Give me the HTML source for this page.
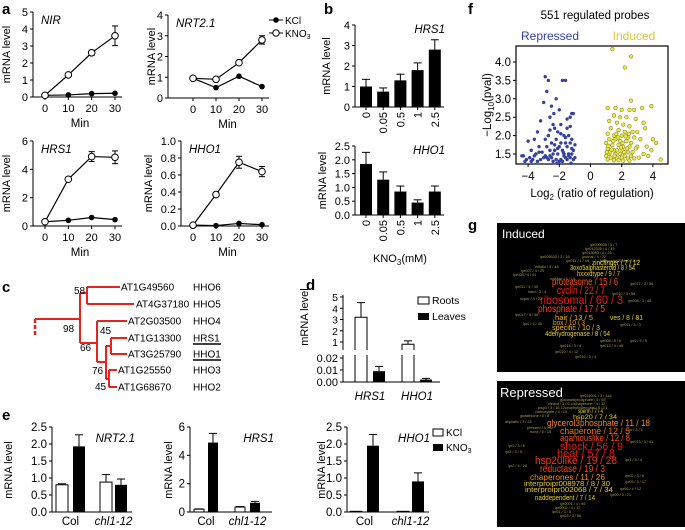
<!DOCTYPE html>
<html><head><meta charset="utf-8"><style>
html,body{margin:0;padding:0;background:#fff;}
svg{display:block;font-family:"Liberation Sans",Arial,sans-serif;}
</style></head><body>
<svg id="fig" width="685" height="530" viewBox="0 0 685 530" xmlns="http://www.w3.org/2000/svg">
<rect x="0" y="0" width="685" height="530" fill="#fff"/>
<g font-weight="bold" font-size="15">
<text x="2" y="14">a</text>
<text x="324" y="14">b</text>
<text x="2" y="292">c</text>
<text x="306" y="290">d</text>
<text x="2" y="420">e</text>
<text x="468" y="14">f</text>
<text x="468" y="230">g</text>
</g>
</svg>
<script>
// ---------- DATA ----------
const minutes=[0,10,20,30];
const nirKCl=[0.1,0.12,0.2,0.22];
const nirKNO3=[0.1,1.3,2.6,3.6];
const nirErr=[0,0.05,0.15,0.58];
const nrtKCl=[0.95,0.5,1.05,0.55];
const nrtKNO3=[0.95,0.9,1.7,2.8];
const nrtErr=[0,0.03,0.08,0.2];
const hrsKCl=[0.3,0.4,0.6,0.45];
const hrsKNO3=[0.3,3.3,4.9,4.85];
const hrsErr=[0,0.05,0.35,0.45];
const hhoKCl=[0.01,0.005,0.03,0.015];
const hhoKNO3=[0.01,0.37,0.75,0.64];
const hhoErr=[0,0.01,0.07,0.06];

const doseLabels=['0','0.05','0.5','1','2.5'];
const doseHRS1=[1.0,0.75,1.3,1.8,2.8];
const doseHRS1Err=[0.35,0.18,0.3,0.35,0.48];
const doseHHO1=[1.85,1.28,0.85,0.45,0.85];
const doseHHO1Err=[0.42,0.28,0.2,0.1,0.2];

const tissueGenes=['HRS1','HHO1'];
const roots=[3.2,0.8];
const rootsErr=[1.3,0.3];
const leaves=[0.009,0.002];
const leavesErr=[0.004,0.001];

const genotypes=['Col','chl1-12'];
const eNrtKCl=[0.8,0.88], eNrtKCl_err=[0.03,0.22];
const eNrtKNO3=[1.93,0.8], eNrtKNO3_err=[0.34,0.17];
const eHrsKCl=[0.2,0.35], eHrsKCl_err=[0.02,0.04];
const eHrsKNO3=[4.9,0.65], eHrsKNO3_err=[0.65,0.1];
const eHhoKCl=[0.02,0.02], eHhoKCl_err=[0,0];
const eHhoKNO3=[1.95,0.9], eHhoKNO3_err=[0.33,0.25];

const repressed=[[-2.9,3.6],[-2.7,3.5],[-1.8,3.5],[-1.6,3.5],[-2.8,3.2],[-2.2,3.0],[-3.0,2.9],[-1.2,2.6],[-2.5,2.8],[-2.0,2.7],[-1.3,2.5],[-1.1,2.6],[-2.6,2.5],[-3.2,2.4],[-2.4,2.3],[-1.9,2.3],[-2.3,2.2],[-1.5,2.2],[-2.1,2.1],[-3.4,2.1],[-2.7,2.0],[-1.7,2.0],[-1.4,2.0],[-2.9,1.9],[-1.2,1.9],[-2.2,1.9],[-3.6,1.9],[-4.0,1.85],[-2.5,1.8],[-1.9,1.8],[-1.6,1.8],[-1.3,1.8],[-2.8,1.7],[-3.3,1.7],[-4.3,1.45],[-3.8,1.6],[-2.0,1.7],[-1.5,1.7],[-1.8,1.6],[-1.1,1.6],[-2.6,1.6],[-2.3,1.6],[-3.1,1.55],[-3.5,1.5],[-1.4,1.5],[-1.7,1.5],[-2.4,1.5],[-2.1,1.5],[-1.2,1.5],[-1.0,1.4],[-3.9,1.4],[-4.4,1.45],[-3.7,1.35],[-3.0,1.4],[-2.8,1.4],[-2.5,1.4],[-1.6,1.4],[-1.3,1.4],[-1.9,1.35],[-2.2,1.35],[-3.2,1.35],[-2.7,1.35],[-1.5,1.35],[-1.1,1.35],[-2.0,1.3],[-1.8,1.3],[-2.4,1.3],[-3.4,1.3],[-4.1,1.35],[-3.6,1.45],[-2.9,1.45],[-1.4,1.45],[-1.7,1.45],[-2.6,1.45],[-1.2,1.65],[-2.1,1.65],[-2.3,1.75],[-1.0,1.75],[-1.6,1.95],[-3.3,1.55],[-1.5,2.45],[-1.9,2.05],[-2.6,2.15],[-1.3,2.25],[-2.35,2.6],[-1.75,1.55],[-1.25,1.25],[-2.15,1.25],[-4.2,1.3],[-3.8,1.3]];
const induced=[[1.4,4.35],[2.6,4.15],[2.2,3.85],[2.6,2.95],[3.9,2.8],[1.1,2.75],[1.6,2.75],[2.0,2.7],[2.5,2.7],[2.8,2.7],[3.3,2.75],[1.5,2.55],[1.9,2.5],[2.3,2.5],[2.9,2.45],[3.4,2.35],[4.0,1.9],[4.2,1.8],[3.6,1.7],[4.5,1.35],[3.9,1.6],[3.2,1.9],[3.0,1.7],[1.2,2.4],[1.7,2.35],[2.1,2.3],[2.5,2.25],[1.3,2.2],[1.8,2.15],[2.2,2.1],[2.7,2.1],[1.1,2.05],[1.5,2.0],[2.0,2.0],[2.4,1.95],[2.8,1.95],[1.2,1.9],[1.6,1.9],[1.9,1.85],[2.3,1.85],[2.6,1.8],[1.0,1.8],[1.4,1.75],[1.8,1.75],[2.1,1.7],[2.5,1.7],[2.9,1.65],[1.1,1.65],[1.5,1.6],[1.7,1.6],[2.0,1.6],[2.4,1.55],[2.7,1.55],[1.2,1.5],[1.6,1.5],[1.9,1.5],[2.2,1.45],[2.6,1.45],[1.0,1.45],[1.3,1.4],[1.7,1.4],[2.0,1.4],[2.4,1.38],[2.8,1.38],[1.1,1.35],[1.5,1.33],[1.8,1.33],[2.1,1.32],[2.5,1.32],[3.1,1.4],[3.4,1.5],[3.7,1.45],[1.25,1.55],[1.45,1.85],[1.65,2.05],[2.15,1.55],[2.35,1.65],[1.05,1.55],[1.35,1.62],[1.75,1.95],[2.05,1.8],[2.45,2.05],[3.0,2.1],[3.5,2.2],[1.15,1.72],[1.55,1.45],[1.95,1.68],[2.25,1.98]];
const xTicksF=[-4,-2,0,2,4];
const yTicksF=[1.5,2.0,2.5,3.0,3.5,4.0];

// ---------- HELPERS ----------
const NS='http://www.w3.org/2000/svg';
const svg=document.getElementById('fig');
function mk(tag,attrs,name,parent){
  const e=document.createElementNS(NS,tag);
  for(const k in attrs)e.setAttribute(k,attrs[k]);
  
  
  (parent||svg).appendChild(e);return e;
}
function txt(x,y,s,opt,name,parent){
  const a=Object.assign({x:x,y:y,'font-size':11,fill:'#000'},opt||{});
  const e=mk('text',a,name,parent);e.textContent=s;return e;
}
function line(x1,y1,x2,y2,name,parent,col,w){
  return mk('line',{x1:x1,y1:y1,x2:x2,y2:y2,stroke:col||'#000','stroke-width':w||1},name,parent);
}
function ylabel(x,yc,parent){
  return txt(0,0,'mRNA level',{transform:'translate('+x+','+yc+') rotate(-90)','text-anchor':'middle','font-size':11},'y-axis-title',parent);
}

// ---------- PANEL A ----------
function lineChart(o){
  const g=mk('g',{},o.name);
  const px=v=>o.x0+(v/30)*(o.x30-o.x0);
  const py=v=>o.yb-(v/o.ymax)*(o.yb-o.yt);
  line(o.ax,o.yt,o.ax,o.yb,'y-axis',g);
  line(o.ax,o.yb,o.x30+7,o.yb,'x-axis',g);
  o.yticks.forEach((t,i)=>{line(o.ax-3,py(t),o.ax,py(t),'y-tick',g);txt(o.ax-5,py(t)+4,o.ylabels[i],{'text-anchor':'end'},'y-tick-label',g);});
  minutes.forEach(m=>{line(px(m),o.yb,px(m),o.yb+3,'x-tick',g);txt(px(m),o.yb+15,String(m),{'text-anchor':'middle'},'x-tick-label',g);});
  txt((o.x0+o.x30)/2,o.yb+30,'Min',{'text-anchor':'middle','font-size':11.5},'x-axis-title',g);
  ylabel(o.ylx,(o.yt+o.yb)/2,g);
  txt(o.ax+8,o.yt+12,o.title,{'font-style':'italic','font-size':11.5},'chart-title',g);
  let d1='',d2='';
  minutes.forEach((m,i)=>{d1+=(i?'L':'M')+px(m)+','+py(o.kcl[i]);d2+=(i?'L':'M')+px(m)+','+py(o.kno3[i]);});
  mk('path',{d:d1,fill:'none',stroke:'#000','stroke-width':1.2},'kcl-line',g);
  mk('path',{d:d2,fill:'none',stroke:'#000','stroke-width':1.2},'kno3-line',g);
  minutes.forEach((m,i)=>{
    const e=o.err[i];
    if(e>0){const t=py(o.kno3[i]+e),b=py(o.kno3[i]-e);line(px(m),t,px(m),b,'error-bar',g);line(px(m)-3,t,px(m)+3,t,'error-cap',g);line(px(m)-3,b,px(m)+3,b,'error-cap',g);}
    mk('circle',{cx:px(m),cy:py(o.kcl[i]),r:2.8,fill:'#000'},'kcl-point',g);
    mk('circle',{cx:px(m),cy:py(o.kno3[i]),r:3.3,fill:'#fff',stroke:'#000','stroke-width':1},'kno3-point',g);
  });
}
lineChart({name:'chart-nir',ax:33,x0:45,x30:115,yt:12,yb:97,ymax:5,yticks:[0,1,2,3,4,5],ylabels:['0','1','2','3','4','5'],kcl:nirKCl,kno3:nirKNO3,err:nirErr,title:'NIR',ylx:10});
lineChart({name:'chart-nrt21',ax:168,x0:193,x30:262,yt:15,yb:98,ymax:4,yticks:[0,1,2,3,4],ylabels:['0','1','2','3','4'],kcl:nrtKCl,kno3:nrtKNO3,err:nrtErr,title:'NRT2.1',ylx:155});
lineChart({name:'chart-hrs1-time',ax:33,x0:45,x30:115,yt:141,yb:226,ymax:6,yticks:[0,2,4,6],ylabels:['0','2','4','6'],kcl:hrsKCl,kno3:hrsKNO3,err:hrsErr,title:'HRS1',ylx:10});
lineChart({name:'chart-hho1-time',ax:181,x0:193,x30:262,yt:141,yb:226,ymax:1,yticks:[0,0.2,0.4,0.6,0.8,1.0],ylabels:['0.0','0.2','0.4','0.6','0.8','1.0'],kcl:hhoKCl,kno3:hhoKNO3,err:hhoErr,title:'HHO1',ylx:152});
// legend a
(function(){const g=mk('g',{},'legend-a');
line(269,20,283,20,'legend-kcl-line',g);mk('circle',{cx:276,cy:20,r:2.8,fill:'#000'},'legend-kcl-marker',g);
txt(285,24,'KCl',{'font-size':10},'legend-kcl-label',g);
line(269,33,283,33,'legend-kno3-line',g);mk('circle',{cx:276,cy:33,r:3.2,fill:'#fff',stroke:'#000'},'legend-kno3-marker',g);
const t=txt(285,37,'KNO',{'font-size':10},'legend-kno3-label',g);const s=document.createElementNS(NS,'tspan');s.setAttribute('font-size','7');s.setAttribute('dy','2');s.textContent='3';t.appendChild(s);})();

// ---------- PANEL B ----------
function doseChart(o){
  const g=mk('g',{},o.name);
  const py=v=>o.yb-(v/o.ymax)*(o.yb-o.yt);
  const cx=i=>366+i*17.2;
  line(o.ax,o.yt,o.ax,o.yb,'y-axis',g);line(o.ax,o.yb,444,o.yb,'x-axis',g);
  o.yticks.forEach((t,i)=>{line(o.ax-3,py(t),o.ax,py(t),'y-tick',g);txt(o.ax-5,py(t)+4,o.ylabels[i],{'text-anchor':'end'},'y-tick-label',g);});
  o.vals.forEach((v,i)=>{
    mk('rect',{x:cx(i)-6,y:py(v),width:12,height:o.yb-py(v),fill:'#000'},'bar-'+doseLabels[i],g);
    const t=py(v+o.err[i]);line(cx(i),t,cx(i),py(v),'error-bar',g);line(cx(i)-4,t,cx(i)+4,t,'error-cap',g);
    line(cx(i),o.yb,cx(i),o.yb+3,'x-tick',g);
    txt(0,0,doseLabels[i],{transform:'translate('+(cx(i)+4)+','+(o.yb+5)+') rotate(-90)','text-anchor':'end'},'x-tick-label',g);
  });
  ylabel(o.ylx,(o.yt+o.yb)/2,g);
  txt(445,o.yt+8,o.title,{'font-style':'italic','text-anchor':'end','font-size':11.5},'chart-title',g);
}
doseChart({name:'chart-hrs1-dose',ax:355,yt:25,yb:107,ymax:4,yticks:[0,1,2,3,4],ylabels:['0','1','2','3','4'],vals:doseHRS1,err:doseHRS1Err,title:'HRS1',ylx:330});
doseChart({name:'chart-hho1-dose',ax:355,yt:146,yb:215,ymax:2.5,yticks:[0,0.5,1,1.5,2,2.5],ylabels:['0.0','0.5','1.0','1.5','2.0','2.5'],vals:doseHHO1,err:doseHHO1Err,title:'HHO1',ylx:326});
(function(){const t=txt(400,262,'KNO',{'text-anchor':'middle','font-size':11},'x-axis-title');const s=document.createElementNS(NS,'tspan');s.setAttribute('font-size','8');s.setAttribute('dy','3');s.textContent='3';t.appendChild(s);const s2=document.createElementNS(NS,'tspan');s2.setAttribute('dy','-3');s2.textContent='(mM)';t.appendChild(s2);})();

// ---------- PANEL F ----------
(function(){
  const g=mk('g',{},'volcano-plot');
  const px=v=>590.5+v*15.6, py=v=>154-(v-1.5)*36.8;
  txt(595,19,'551 regulated probes',{'text-anchor':'middle','font-size':11.5},'chart-title',g);
  txt(550,40,'Repressed',{'text-anchor':'middle','font-size':12,fill:'#3540a8'},'repressed-label',g);
  txt(634,40,'Induced',{'text-anchor':'middle','font-size':12,fill:'#d8c83a'},'induced-label',g);
  mk('rect',{x:516,y:46,width:152,height:118,fill:'none',stroke:'#000','stroke-width':1.2},'plot-frame',g);
  xTicksF.forEach(t=>{line(px(t),164,px(t),167,'x-tick',g);txt(px(t),180,t<0?'\u2212'+(-t):String(t),{'text-anchor':'middle','font-size':11.5},'x-tick-label',g);});
  yTicksF.forEach(t=>{line(513,py(t),516,py(t),'y-tick',g);txt(511,py(t)+4,t.toFixed(1),{'text-anchor':'end','font-size':11.5},'y-tick-label',g);});
  repressed.forEach(p=>mk('circle',{cx:px(p[0]),cy:py(p[1]),r:1.7,fill:'#3540a0'},'repressed-point',g));
  induced.forEach(p=>mk('circle',{cx:px(p[0]),cy:py(p[1]),r:1.8,fill:'#eeea3a',stroke:'#8c8c3a','stroke-width':0.6},'induced-point',g));
  const yt=txt(0,0,'\u2212Log',{transform:'translate(491,105) rotate(-90)','text-anchor':'middle','font-size':11.5},'y-axis-title',g);
  let s=document.createElementNS(NS,'tspan');s.setAttribute('font-size','8');s.setAttribute('dy','3');s.textContent='10';yt.appendChild(s);
  s=document.createElementNS(NS,'tspan');s.setAttribute('dy','-3');s.textContent='(pval)';yt.appendChild(s);
  const xt=txt(592,197,'Log',{'text-anchor':'middle','font-size':11.5},'x-axis-title',g);
  s=document.createElementNS(NS,'tspan');s.setAttribute('font-size','8');s.setAttribute('dy','3');s.textContent='2';xt.appendChild(s);
  s=document.createElementNS(NS,'tspan');s.setAttribute('dy','-3');s.textContent=' (ratio of regulation)';xt.appendChild(s);
})();

// ---------- PANEL C (tree) ----------
(function(){
  const g=mk('g',{},'phylo-tree');const R='#e8231e';
  const segs=[[35,319,80,319],[80,293,80,343],[80,293,87,293],[87,287,87,304],[87,287,120,287],[87,304,134,304],[80,343,97,343],[97,321,97,362],[97,321,127,321],[97,362,106,362],[106,346,106,379],[106,346,111,346],[111,338,111,354],[111,338,127,338],[111,354,127,354],[106,379,109,379],[109,370,109,387],[109,370,117,370],[109,387,117,387]];
  segs.forEach(s=>line(s[0],s[1],s[2],s[3],'tree-branch',g,R,2));
  mk('line',{x1:35,y1:319,x2:35,y2:337,stroke:R,'stroke-width':2.5,'stroke-dasharray':'4,2'},'tree-root',g);
  const leaves=[['AT1G49560','HHO6',121,287],['AT4G37180','HHO5',136,304],['AT2G03500','HHO4',128,321],['AT1G13300','HRS1',128,338],['AT3G25790','HHO1',128,354],['AT1G25550','HHO3',118,370],['AT1G68670','HHO2',118,387]];
  leaves.forEach(l=>{txt(l[2],l[3]+3.5,l[0],{'font-size':10},'tree-leaf-id',g);const t=txt(193,l[3]+3.5,l[1],{'font-size':10},'tree-leaf-name',g);if(l[1]==='HRS1'||l[1]==='HHO1'){line(193,l[3]+6,221,l[3]+6,'underline',g,'#000',1.5);}});
  [['58',74,294],['98',63,332],['66',80,351],['45',100,334],['76',92,374],['45',95,390]].forEach(b=>txt(b[1],b[2],b[0],{'font-size':10},'bootstrap-value',g));
})();

// ---------- PANEL D ----------
(function(){
  const g=mk('g',{},'chart-tissue');
  const dy=v=>v<=0.02?382-v/0.02*24:342-(v-1)*11.25;
  line(343,295,343,350,'y-axis-upper',g);line(343,355,343,382,'y-axis-lower',g);line(343,382,440,382,'x-axis',g);
  [1,2,3,4,5].forEach(t=>{line(340,dy(t),343,dy(t),'y-tick',g);txt(338,dy(t)+4,String(t),{'text-anchor':'end','font-size':10.5},'y-tick-label',g);});
  [0,0.01,0.02].forEach(t=>{line(340,dy(t),343,dy(t),'y-tick',g);txt(338,dy(t)+4,t.toFixed(2),{'text-anchor':'end','font-size':11},'y-tick-label',g);});
  const rx=[355,402],lx=[373,420];
  tissueGenes.forEach((gn,i)=>{
    const t=dy(roots[i]);
    mk('rect',{x:rx[i],y:t,width:12,height:382-t,fill:'#fff',stroke:'#000'},'bar-roots-'+gn,g);
    const et=dy(roots[i]+rootsErr[i]);line(rx[i]+6,et,rx[i]+6,t,'error-bar',g);line(rx[i]+2,et,rx[i]+10,et,'error-cap',g);
    const lt=dy(leaves[i]);
    mk('rect',{x:lx[i],y:lt,width:12,height:382-lt,fill:'#000'},'bar-leaves-'+gn,g);
    const let_=dy(leaves[i]+leavesErr[i]);line(lx[i]+6,let_,lx[i]+6,lt,'error-bar',g);line(lx[i]+2,let_,lx[i]+10,let_,'error-cap',g);
    txt((rx[i]+lx[i]+12)/2,400,gn,{'text-anchor':'middle','font-style':'italic','font-size':11.5},'x-tick-label',g);
  });
  mk('rect',{x:336,y:350,width:84,height:5,fill:'#fff'},'axis-break',g);
  ylabel(308,317,g);
  mk('rect',{x:418,y:297,width:11,height:7,fill:'#fff',stroke:'#000'},'legend-roots-swatch',g);
  txt(432,304,'Roots',{'font-size':10.5},'legend-roots-label',g);
  mk('rect',{x:418,y:313,width:11,height:7,fill:'#000'},'legend-leaves-swatch',g);
  txt(432,320,'Leaves',{'font-size':10.5},'legend-leaves-label',g);
})();

// ---------- PANEL E ----------
function genoChart(o){
  const g=mk('g',{},o.name);
  const py=v=>512-(v/o.ymax)*85;
  line(o.ax,427,o.ax,512,'y-axis',g);line(o.ax,512,o.ax+o.w,512,'x-axis',g);
  o.yticks.forEach((t,i)=>{line(o.ax-3,py(t),o.ax,py(t),'y-tick',g);txt(o.ax-5,py(t)+4,o.ylabels[i],{'text-anchor':'end','font-size':11.5},'y-tick-label',g);});
  genotypes.forEach((gt,i)=>{
    const k=o.kx[i],n=o.nx[i];
    let t=py(o.kcl[i]);mk('rect',{x:k,y:t,width:o.bw,height:512-t,fill:'#fff',stroke:'#000'},'bar-kcl-'+gt,g);
    if(o.kclE[i]>0){const e=py(o.kcl[i]+o.kclE[i]);line(k+o.bw/2,e,k+o.bw/2,t,'error-bar',g);line(k+o.bw/2-4,e,k+o.bw/2+4,e,'error-cap',g);}
    t=py(o.kno3[i]);mk('rect',{x:n,y:t,width:o.bw,height:512-t,fill:'#000'},'bar-kno3-'+gt,g);
    const e=py(o.kno3[i]+o.kno3E[i]);line(n+o.bw/2,e,n+o.bw/2,t,'error-bar',g);line(n+o.bw/2-4,e,n+o.bw/2+4,e,'error-cap',g);
    txt((k+n+o.bw)/2,525,gt,{'text-anchor':'middle','font-size':11.5,'font-style':i?'italic':'normal'},'x-tick-label',g);
  });
  ylabel(o.ylx,470,g);
  txt(o.titleX,442,o.title,{'font-style':'italic','text-anchor':'end','font-size':11.5},'chart-title',g);
}
genoChart({name:'chart-nrt21-genotype',ax:52,w:80,ymax:2.5,yticks:[0,0.5,1,1.5,2,2.5],ylabels:['0.0','0.5','1.0','1.5','2.0','2.5'],kx:[56,100],nx:[73,115],bw:12,kcl:eNrtKCl,kclE:eNrtKCl_err,kno3:eNrtKNO3,kno3E:eNrtKNO3_err,title:'NRT2.1',titleX:135,ylx:12});
genoChart({name:'chart-hrs1-genotype',ax:190,w:82,ymax:6,yticks:[0,2,4,6],ylabels:['0','2','4','6'],kx:[194,235],nx:[208,250],bw:10,kcl:eHrsKCl,kclE:eHrsKCl_err,kno3:eHrsKNO3,kno3E:eHrsKNO3_err,title:'HRS1',titleX:274,ylx:172});
genoChart({name:'chart-hho1-genotype',ax:347,w:82,ymax:2.5,yticks:[0,0.5,1,1.5,2,2.5],ylabels:['0.0','0.5','1.0','1.5','2.0','2.5'],kx:[350,397],nx:[367,412],bw:12,kcl:eHhoKCl,kclE:eHhoKCl_err,kno3:eHhoKNO3,kno3E:eHhoKNO3_err,title:'HHO1',titleX:430,ylx:325});
(function(){const g=mk('g',{},'legend-e');
mk('rect',{x:433,y:429,width:10,height:7,fill:'#fff',stroke:'#000'},'legend-kcl-swatch',g);
txt(446,436,'KCl',{'font-size':10},'legend-kcl-label',g);
mk('rect',{x:433,y:444,width:10,height:7,fill:'#000'},'legend-kno3-swatch',g);
const t=txt(446,451,'KNO',{'font-size':10},'legend-kno3-label',g);const s=document.createElementNS(NS,'tspan');s.setAttribute('font-size','7');s.setAttribute('dy','2');s.textContent='3';t.appendChild(s);})();

// ---------- PANEL G (word clouds) ----------
const inducedWords=[['zincfinger / 7 / 12',592,265,48,7,'#e8e030'],['3oxo5alphasteroid / 8 / 54',570,270,65,7,'#e8d830'],['hxxxdtype / 9 / 7',577,276,43,7,'#f0c828'],['proteasome / 15 / 6',552,285,66,10,'#ff5020'],['cyclin / 22 / 7',557,294,48,11,'#f02818'],['ribosomal / 60 / 3',540,304,83,12,'#e81a14'],['phosphate / 17 / 5',538,312,67,10,'#ff3c1c'],['hair / 13 / 5',555,320,38,7,'#f0b020'],['ves / 8 / 81',610,320,33,7,'#e8d030'],['box / 10 / 3',553,325,32,7,'#f0a020'],['specific / 10 / 3',552,330,48,7,'#f0b828'],['4dehydrogenase / 8 / 54',545,336,65,7,'#e8d030']];
const repressedWords=[['sperm / 7 / 4',578,413,25,6,'#e8d030'],['hsp20 / 7 / 34',573,419,44,6,'#e8d030'],['glycerol3phosphate / 11 / 18',547,426,103,9,'#f08020'],['chaperone / 12 / 5',560,434,70,9,'#f07020'],['agamouslike / 12 / 8',560,441,70,9,'#f05020'],['shock / 56 / 9',560,450,63,11,'#e81a14'],['heat / 57 / 8',557,457,58,11,'#e81a14'],['hsp20like / 19 / 28',535,464,82,11,'#f03a18'],['reductase / 19 / 3',540,472,65,10,'#f04818'],['chaperones / 11 / 26',530,480,75,8,'#f08c20'],['interproipr008978 / 8 / 30',524,486,86,7,'#e8c828'],['interproipr002068 / 7 / 34',525,492,88,7,'#e8c828'],['naddependent / 7 / 14',535,500,60,7,'#e8d030']];
const inducedTiny=[['ipr000608 / 5 / 7',590,246],['ipr012335 / 4 / 49',585,250],['ipr013083 / 4 / 26',582,254],['ipr005930 / 3 / 16',540,258],['journal / 4 / 27',582,258],['ipr011 / 4 / 49',566,262],['interproipr003480 / 5 / 7',600,262],['mitotic / 5 / 48',535,268],['ipr007 / 4 / 20',521,272],['ipr008 / 4 / 41',513,276],['mutase / 6 / 14',550,280],['ipr017 / 3 / 56',630,285],['ipr011 / 4 / 49',515,288],['hard / 3 / 4',528,293],['ipr010 / 3 / 58',612,295],['super / 4 / 22',520,300],['ipr008 / 3 / 40',628,302],['ipr017 / 3 / 56',515,316],['ipr0 / 4 / 40',523,325],['ipr011 / 3 / 3',620,326],['ipr008 / 5 / 6',600,342],['ipr0 / 4 / 5',630,342],['ipr015 / 3 / 4',560,347],['ipr013 / 4 / 48',600,347],['ipr010 / 4 / 12',555,353],['ipr016 / 3 / 4',575,358]];
const repressedTiny=[['ipr016001 / 3 / 144',580,397],['glucose6phosphate / 4 / 55',560,401],['cleavd / 3 / 6 cochaperone / 4 / 12',548,405],['pisy3 / 3 / 16 12oxophytodienoate / 5 / 21',538,409],['carboxylate / 4 / 10',535,413],['glutathione / 5 / 8',520,417],['aliphatic / 3 / 24',505,423],['pressed / 4 / 12',527,429],['none / 5 / 15',530,433],['ipr / 3 / 5',628,431],['ipr013 / 3 / 41',630,443],['ipr0 / 3 / 6',508,447],['ipr3 / 3 / 5',505,453],['ipr1 / 5 / 4',625,461],['ipr2 / 4 / 20',508,467],['ipr02 / 3 / 6',625,477],['ipr05 / 3 / 17',625,483],['ipr06 / 4 / 12',620,490],['ipr00 / 3 / 21',610,496],['ipr0001 / 4 / 96',560,505],['ipr0002 / 4 / 12',555,509],['ipr01 / 3 / 5',552,513],['ipr03 / 3 / 56',560,517]];
(function(){
  const g=mk('g',{},'word-clouds');
  mk('rect',{x:497,y:223,width:188,height:149,fill:'#000'},'induced-cloud-box',g);
  mk('rect',{x:497,y:381,width:188,height:146,fill:'#000'},'repressed-cloud-box',g);
  txt(502,238,'Induced',{fill:'#fff','font-size':12},'induced-cloud-title',g);
  txt(500,397,'Repressed',{fill:'#fff','font-size':13},'repressed-cloud-title',g);
  inducedTiny.concat(repressedTiny).forEach(w=>txt(w[1],w[2],w[0],{'font-size':3.8,fill:'#a8a040'},'cloud-word-small',g));
  inducedWords.concat(repressedWords).forEach(w=>txt(w[1],w[2],w[0],{'font-size':w[4],fill:w[5],textLength:w[3],lengthAdjust:'spacingAndGlyphs'},'cloud-word',g));
})();
</script>
</body></html>
